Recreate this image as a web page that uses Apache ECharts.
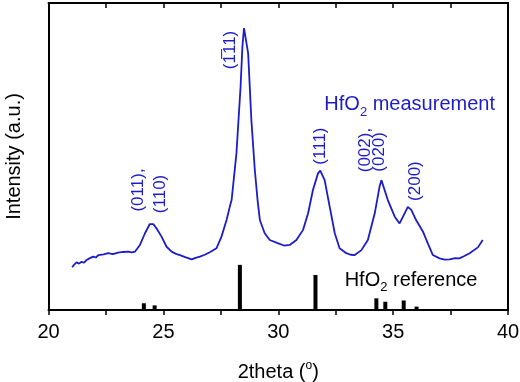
<!DOCTYPE html>
<html>
<head>
<meta charset="utf-8">
<script src="https://cdn.jsdelivr.net/npm/echarts@6/dist/echarts.min.js"></script>
<style>html,body{margin:0;padding:0;background:#fff}#c{width:520px;height:382px}</style>
</head>
<body>
<div id="c"></div>
<script>
// Measured XRD pattern (2theta, intensity a.u.)
var measTheta = [21.03,21.12,21.22,21.33,21.44,21.55,21.66,21.8,21.95,22.06,22.17,22.4,22.6,22.8,23.03,23.25,23.47,23.62,23.76,23.98,24.2,24.41,24.56,24.7,24.92,25.14,25.36,25.55,25.72,25.95,26.23,26.4,26.59,26.8,27.02,27.31,27.53,27.75,27.89,27.97,28.18,28.36,28.44,28.51,28.69,28.83,28.98,29.1,29.2,29.41,29.63,30.0,30.25,30.5,30.79,31.08,31.3,31.51,31.73,31.83,32.02,32.24,32.46,32.67,32.96,33.15,33.33,33.62,33.9,34.2,34.41,34.49,34.56,34.77,35.07,35.28,35.43,35.64,35.79,36.0,36.3,36.51,36.73,37.02,37.25,37.46,37.7,37.89,38.1,38.33,38.69,38.9];
var measInt   = [13.9,14.8,15.5,15.1,15.7,15.4,16.3,16.9,17.4,17.1,17.9,18.1,18.5,18.2,18.7,18.9,19.0,18.8,19.0,21.2,25.0,28.0,28.0,26.6,23.9,20.6,19.0,18.3,17.9,17.2,16.5,17.0,17.4,18.0,18.8,20.1,23.9,29.3,33.6,35.8,51.0,72.7,85.8,91.8,83.6,61.9,45.6,35.8,29.3,25.0,22.8,21.7,21.0,21.2,22.8,26.1,31.5,39.1,44.5,45.4,42.3,33.6,25.0,20.1,18.5,18.0,17.9,19.5,22.8,31.5,40.2,42.3,42.3,35.8,30.4,28.2,30.4,33.6,32.6,29.3,25.5,21.7,17.9,16.8,16.4,16.5,16.9,16.8,17.6,18.5,20.4,22.8];
// HfO2 reference lines
var refTheta = [24.15,24.62,28.33,31.62,34.27,34.66,35.46,36.02];
var refInt   = [2.2,1.5,14.7,11.4,3.8,2.7,3.1,1.1];
// Peak labels
var peakLabels = ['(011),','(110)','(1\u030511)','(111)','(002),','(020)','(200)'];
var peakTheta  = [23.93,24.85,27.93,31.85,33.80,34.41,35.98];
var peakInt    = [39.1,37.8,84.7,53.4,52.1,51.5,42.0];
// Legend-like text positions
var measLabelPos = [35.72, 66.8];
var refLabelPos  = [35.78, 9.6];
// Axis
var xTickLabels = ['20','25','30','35','40'];

var blue = '#1c1cc8';
var font = 'Liberation Sans, Arial, sans-serif';

var chart = echarts.init(document.getElementById('c'), null, {renderer:'canvas'});
var measData = measTheta.map(function(t,i){return [t, measInt[i]];});
var refData = refTheta.map(function(t,i){return [t, refInt[i]];});
var lblData = peakTheta.map(function(t,i){return {value:[t, peakInt[i]], name: peakLabels[i]};});

chart.setOption({
  animation:false,
  backgroundColor:'#fff',
  grid:{left:48.5, right:12, top:3, bottom:72, containLabel:false, outerBoundsMode:'none'},
  xAxis:[{
    type:'value', min:20, max:40, interval:2.5, position:'bottom',
    axisLine:{show:true, onZero:false, lineStyle:{color:'#000', width:2}},
    axisTick:{show:true, inside:false, length:5, lineStyle:{color:'#000', width:1.5}},
    axisLabel:{fontFamily:font, fontSize:20, color:'#000', margin:12,
      formatter:function(v){var s=String(v); return xTickLabels.indexOf(s)>=0?s:'';}},
    splitLine:{show:false},
    name:'{a|2theta (}{s|o}{a|)}', nameLocation:'middle', nameGap:50,
    nameTextStyle:{rich:{a:{fontFamily:font, fontSize:20, color:'#000'}, s:{fontFamily:font, fontSize:12, color:'#000', padding:[0,0,12,0]}}}
  },{
    type:'value', min:20, max:40, interval:2.5, position:'top',
    axisLine:{show:true, onZero:false, lineStyle:{color:'#000', width:2}},
    axisTick:{show:true, inside:true, length:5, lineStyle:{color:'#000', width:1.5}},
    axisLabel:{show:false}, splitLine:{show:false}
  }],
  yAxis:[{
    type:'value', min:0, max:100, position:'left',
    axisLine:{show:true, onZero:false, lineStyle:{color:'#000', width:2}},
    axisTick:{show:false}, axisLabel:{show:false}, splitLine:{show:false},
    name:'Intensity (a.u.)', nameLocation:'middle', nameGap:24, nameRotate:90,
    nameTextStyle:{fontFamily:font, fontSize:20, color:'#000'}
  },{
    type:'value', min:0, max:100, position:'right',
    axisLine:{show:true, onZero:false, lineStyle:{color:'#000', width:2}},
    axisTick:{show:false}, axisLabel:{show:false}, splitLine:{show:false}
  }],
  series:[{
    type:'line', data:measData, symbol:'none', smooth:false,
    lineStyle:{color:blue, width:1.8}, z:3
  },{
    type:'bar', data:refData, barWidth:4, itemStyle:{color:'#000'}, z:2
  },{
    type:'scatter', data:lblData, symbolSize:0, z:4, itemStyle:{opacity:1},
    label:{show:true, position:'inside', rotate:90, opacity:1, formatter:function(p){return p.name;},
      fontFamily:font, fontSize:17, color:blue}
  },{
    type:'scatter', symbolSize:0, z:4, itemStyle:{opacity:1},
    data:[{value:measLabelPos, name:'m'}],
    label:{show:true, position:'inside', align:'center', opacity:1, formatter:'{a|HfO}{s|2}{a| measurement}',
      rich:{a:{fontFamily:font, fontSize:20, color:blue}, s:{fontFamily:font, fontSize:13, color:blue, padding:[14,0,0,0]}}}
  },{
    type:'scatter', symbolSize:0, z:4, itemStyle:{opacity:1},
    data:[{value:refLabelPos, name:'r'}],
    label:{show:true, position:'inside', align:'center', opacity:1, formatter:'{a|HfO}{s|2}{a| reference}',
      rich:{a:{fontFamily:font, fontSize:20, color:'#000'}, s:{fontFamily:font, fontSize:13, color:'#000', padding:[14,0,0,0]}}}
  }]
});
</script>
</body>
</html>
